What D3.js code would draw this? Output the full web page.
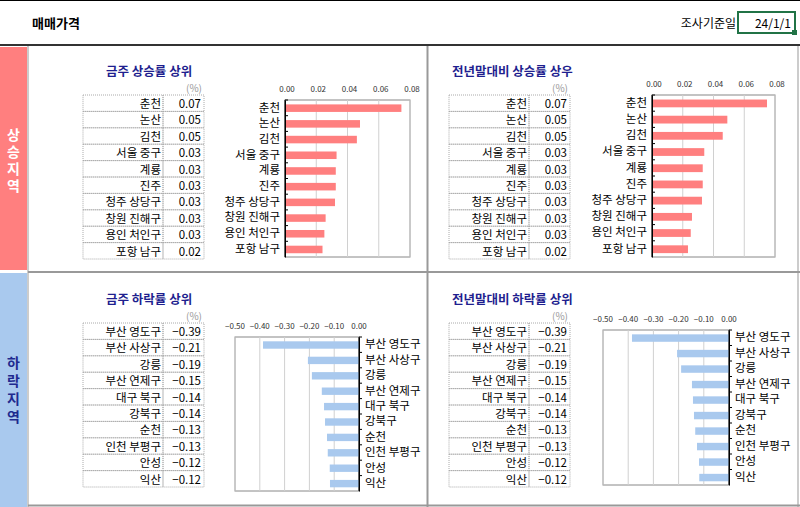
<!DOCTYPE html>
<html><head><meta charset="utf-8">
<script src="https://cdn.jsdelivr.net/npm/d3@7"></script>
<style>
body { margin: 0; background: #fff; }
svg { font-family: "Noto Sans CJK KR", "Noto Sans", sans-serif; }
</style></head>
<body>
<svg id="chart" width="800" height="507"></svg>
<script>
// Data.
const upNames = ["춘천", "논산", "김천", "서울 중구", "계룡", "진주", "청주 상당구", "창원 진해구", "용인 처인구", "포항 남구"];
const upWeek = [0.0745, 0.048, 0.046, 0.033, 0.0325, 0.0325, 0.032, 0.026, 0.0252, 0.024];
const upYear = [0.0748, 0.049, 0.046, 0.034, 0.033, 0.033, 0.0325, 0.026, 0.0252, 0.0234];
const downNames = ["부산 영도구", "부산 사상구", "강릉", "부산 연제구", "대구 북구", "강북구", "순천", "인천 부평구", "안성", "익산"];
const downWeek = [-0.387, -0.206, -0.19, -0.15, -0.141, -0.137, -0.129, -0.126, -0.118, -0.117];
const downYear = [-0.385, -0.206, -0.19, -0.147, -0.143, -0.139, -0.134, -0.127, -0.119, -0.118];
const upTicks = [0, 0.02, 0.04, 0.06, 0.08];
const downTicks = [-0.5, -0.4, -0.3, -0.2, -0.1, 0];

const svg = d3.select("#chart");
const fmt = d3.format(".2f");

// Header.
svg.append("rect").attr("x", 0).attr("y", 0).attr("width", 800).attr("height", 507).attr("fill", "#fff");
svg.append("line").attr("x1", 0).attr("x2", 800).attr("y1", 0.5).attr("y2", 0.5).attr("stroke", "#000");
svg.append("text").attr("x", 32).attr("y", 28).attr("font-size", 13).attr("font-weight", "bold").text("매매가격");
svg.append("text").attr("x", 736).attr("y", 28).attr("font-size", 12).attr("text-anchor", "end").text("조사기준일");
svg.append("rect").attr("x", 738).attr("y", 12).attr("width", 57).attr("height", 21).attr("fill", "#fff").attr("stroke", "#217346").attr("stroke-width", 2);
svg.append("rect").attr("x", 792).attr("y", 30).attr("width", 5).attr("height", 5).attr("fill", "#217346");
svg.append("text").attr("x", 791).attr("y", 28).attr("font-size", 12).attr("text-anchor", "end").text("24/1/1");
svg.append("line").attr("x1", 0).attr("x2", 800).attr("y1", 45).attr("y2", 45).attr("stroke", "#333").attr("stroke-width", 2);

// Side bands.
svg.append("rect").attr("x", 0).attr("y", 47).attr("width", 27).attr("height", 223).attr("fill", "#ff7f7f");
svg.append("rect").attr("x", 0).attr("y", 273).attr("width", 27).attr("height", 234).attr("fill", "#a9c9ee");
"상승지역".split("").forEach((c, i) => svg.append("text").attr("x", 13.5).attr("y", 140 + i * 17).attr("text-anchor", "middle")
  .attr("font-size", 14).attr("font-weight", "bold").attr("fill", "#fff").text(c));
"하락지역".split("").forEach((c, i) => svg.append("text").attr("x", 13.5).attr("y", 368 + i * 18).attr("text-anchor", "middle")
  .attr("font-size", 14).attr("font-weight", "bold").attr("fill", "#1f2a8f").text(c));

// Panel borders.
svg.append("line").attr("x1", 28).attr("x2", 28).attr("y1", 46).attr("y2", 507).attr("stroke", "#999");
svg.append("line").attr("x1", 427.5).attr("x2", 427.5).attr("y1", 46).attr("y2", 507).attr("stroke", "#999").attr("stroke-width", 2);
svg.append("line").attr("x1", 798).attr("x2", 798).attr("y1", 46).attr("y2", 507).attr("stroke", "#999");
svg.append("line").attr("x1", 28).attr("x2", 800).attr("y1", 272).attr("y2", 272).attr("stroke", "#999").attr("stroke-width", 2);
svg.append("line").attr("x1", 28).attr("x2", 800).attr("y1", 505.5).attr("y2", 505.5).attr("stroke", "#999").attr("stroke-width", 2);

function table(x, y, names, vals, title, titleX) {
  const g = svg.append("g");
  g.append("text").attr("x", titleX).attr("y", y - 19).attr("font-size", 12.5).attr("font-weight", "bold").attr("fill", "#1f1f8f").text(title);
  g.append("text").attr("x", x + 119).attr("y", y - 3).attr("font-size", 10).attr("fill", "#999").attr("text-anchor", "end").text("(%)");
  const rh = 16.4;
  names.forEach((n, i) => {
    const yy = y + i * rh;
    g.append("rect").attr("x", x).attr("y", yy).attr("width", 80).attr("height", rh)
      .attr("fill", "none").attr("stroke", "#aaa").attr("stroke-dasharray", "1,1");
    g.append("rect").attr("x", x + 80).attr("y", yy).attr("width", 41).attr("height", rh)
      .attr("fill", "none").attr("stroke", "#aaa").attr("stroke-dasharray", "1,1");
    g.append("text").attr("x", x + 78).attr("y", yy + 13).attr("font-size", 11.5).attr("text-anchor", "end").text(n);
    g.append("text").attr("x", x + 118).attr("y", yy + 13).attr("font-size", 11.5).attr("text-anchor", "end").text(fmt(vals[i]).replace("-", "\u2212"));
  });
}

function barChart(x0, x1, y0, y1, names, vals, ticks, color, up) {
  const g = svg.append("g");
  const x = d3.scaleLinear().domain(up ? [0, 0.08] : [-0.5, 0]).range([x0, x1]);
  const y = d3.scaleBand().domain(names).range([y0, y1]);
  g.append("rect").attr("x", x0).attr("y", y0).attr("width", x1 - x0).attr("height", y1 - y0)
    .attr("fill", "#fff").attr("stroke", "#888");
  ticks.forEach(t => {
    g.append("line").attr("x1", x(t)).attr("x2", x(t)).attr("y1", y0).attr("y2", y1).attr("stroke", "#d0d0d0");
    g.append("text").attr("x", x(t) + (up ? 2 : 0)).attr("y", y0 - 8).attr("font-size", 8).attr("text-anchor", "middle")
      .attr("fill", "#333").text(fmt(t).replace("-", "\u2212"));
  });
  g.selectAll(".bar").data(vals).join("rect")
    .attr("x", d => x(Math.min(0, d)))
    .attr("width", d => Math.abs(x(d) - x(0)))
    .attr("y", (d, i) => y(names[i]) + y.bandwidth() * 0.28)
    .attr("height", y.bandwidth() * 0.48)
    .attr("fill", color);
  const ax = up ? d3.axisLeft(y).tickSize(0) : d3.axisRight(y).tickSize(0);
  const axG = g.append("g").attr("transform", `translate(${up ? x0 : x1},0)`).call(ax);
  axG.select(".domain").attr("stroke", "#000");
  axG.selectAll("text").attr("font-size", 11.5).attr("fill", "#000")
    .attr("font-family", "Noto Sans CJK KR").attr("dx", up ? "-2" : "3");
  names.forEach((n, i) => {
    const yy = y0 + i * y.step();
    g.append("line").attr("x1", up ? x0 : x1).attr("x2", up ? x0 + 3 : x1 + 3)
      .attr("y1", yy).attr("y2", yy).attr("stroke", "#000");
  });
  g.append("line").attr("x1", up ? x0 : x1).attr("x2", up ? x0 : x1).attr("y1", y0).attr("y2", y1).attr("stroke", "#000");
}

table(83, 95, upNames, upWeek, "금주 상승률 상위", 106);
barChart(285, 410, 100, 257, upNames, upWeek, upTicks, "#ff7f7f", true);
table(449, 95, upNames, upYear, "전년말대비 상승률 상우", 452);
barChart(652, 775, 95, 257, upNames, upYear, upTicks, "#ff7f7f", true);
table(83, 323, downNames, downWeek, "금주 하락률 상위", 106);
barChart(235, 359, 337, 491, downNames, downWeek, downTicks, "#a9c9ee", false);
table(449, 323, downNames, downYear, "전년말대비 하락률 상위", 452);
barChart(603, 729, 330, 485, downNames, downYear, downTicks, "#a9c9ee", false);
</script>
</body></html>
